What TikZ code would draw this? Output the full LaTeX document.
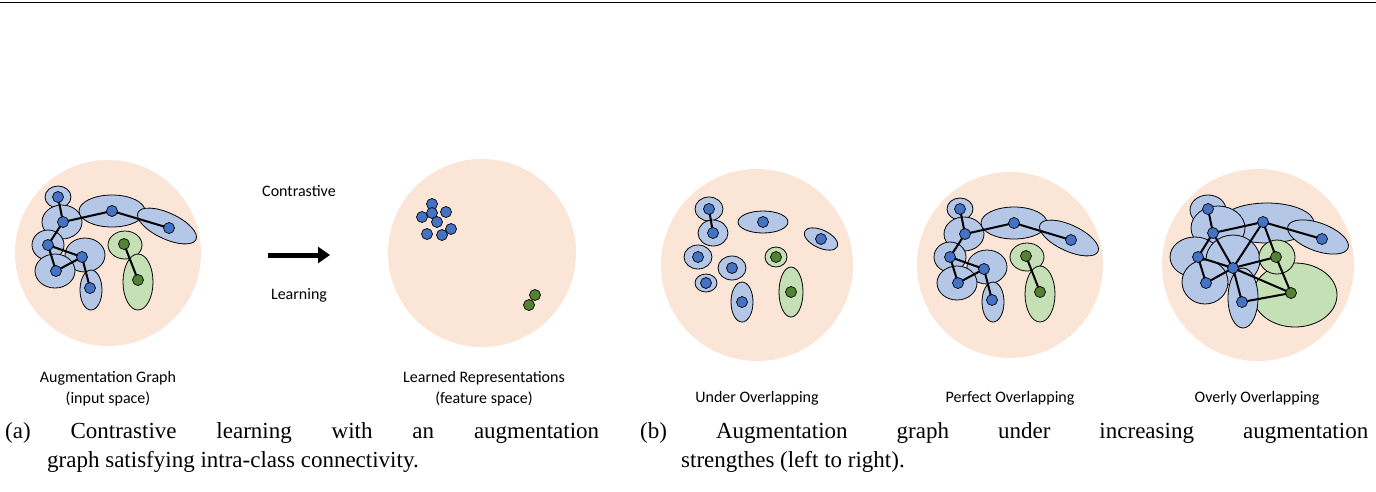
\documentclass[tikz,border=0pt]{standalone}
\usepackage{fontspec}
\usetikzlibrary{arrows.meta}
\setmainfont{Liberation Serif}
\newfontfamily\lab{Carlito}
\begin{document}
\begin{tikzpicture}[x=1pt,y=-1pt,
  bg/.style={fill=peach},
  bell/.style={fill=bellc,draw=black,line width=0.8pt},
  gell/.style={fill=gellc,draw=black,line width=0.8pt},
  bd/.style={circle,fill=bdot,draw=black,line width=0.7pt,inner sep=0pt,minimum size=11pt},
  gd/.style={circle,fill=gdot,draw=black,line width=0.7pt,inner sep=0pt,minimum size=11pt},
  ed/.style={line width=2pt},
  lbl/.style={font=\lab\fontsize{16}{19}\selectfont,inner sep=0pt},
  captxt/.style={font=\fontsize{23}{27}\selectfont,inner sep=0pt,anchor=base west}]
\definecolor{peach}{HTML}{FBE5D6}
\definecolor{bellc}{HTML}{B4C7E7}
\definecolor{gellc}{HTML}{C5E0B4}
\definecolor{bdot}{HTML}{4472C4}
\definecolor{gdot}{HTML}{548235}
\useasboundingbox (0,0) rectangle (1376,491);
\draw[line width=0.8pt] (0,2) -- (1376,2);
% circle 1 and 4
\foreach \sx/\sy/\p in {0/0/a,902/12/p}{
\begin{scope}[shift={(\sx,\sy)}]
\fill[bg] (108,253) circle (93);
\draw[bell] (58,197) ellipse (13 and 11);
\draw[bell] (62,222) ellipse (20 and 17);
\draw[bell] (112,211) ellipse (33 and 16);
\draw[bell,rotate around={-25:(167,226)}] (167,226) ellipse (32 and 13);
\draw[bell] (48,245) ellipse (16 and 15);
\draw[bell] (85,255) ellipse (20 and 17);
\draw[bell] (55,271) ellipse (20 and 17);
\draw[bell] (91,290) ellipse (11 and 20);
\draw[gell] (125,245) ellipse (17 and 14);
\draw[gell] (138,282) ellipse (15 and 28);
\coordinate (\p1) at (58,197);
\coordinate (\p2) at (63,222);
\coordinate (\p3) at (112,211);
\coordinate (\p4) at (169,228);
\coordinate (\p5) at (48,245);
\coordinate (\p6) at (82,257);
\coordinate (\p7) at (56,271);
\coordinate (\p8) at (90,288);
\coordinate (\p9) at (124,244);
\coordinate (\p0) at (138,280);
\foreach \u/\v in {1/2,2/3,3/4,2/5,5/6,5/7,7/6,6/8,9/0}{\draw[ed] (\p\u) -- (\p\v);}
\foreach \i in {1,...,8}{\node[bd] (\p n\i) at (\p\i) {};}
\node[gd] (\p n9) at (\p9) {};
\node[gd] (\p n0) at (\p0) {};
\end{scope}
}
% circle 2
\fill[bg] (482,253) circle (94);
\foreach \x/\y [count=\i] in {432/204,432/213,422/217,446/212,437/222,427/234,442/235,451/229}{\node[bd] (r\i) at (\x,\y) {};}
\node[gd] (rg1) at (535,295) {};
\node[gd] (rg2) at (529,305) {};
% arrow
\node[lbl] (t1) at (299,191) {Contrastive};
\node[lbl] (t2) at (299,295) {Learning};
\coordinate (as) at (268,255);
\coordinate (ae) at (330,255);
\draw[line width=5pt,-{Triangle[length=12pt,width=16pt]}] (as) -- (ae);
% circle 3
\fill[bg] (757,265) circle (96);
\draw[bell] (709,209) ellipse (14 and 12);
\draw[bell] (713,233) ellipse (15 and 13);
\draw[bell] (763,222) ellipse (25 and 11);
\draw[bell,rotate around={-25:(821,239)}] (821,239) ellipse (18 and 9);
\draw[bell] (698,257) ellipse (14 and 12);
\draw[bell] (732,268) ellipse (14 and 12);
\draw[bell] (706,283) ellipse (11 and 9);
\draw[bell] (742,302) ellipse (11 and 20);
\draw[gell] (776,257) ellipse (11 and 10);
\draw[gell] (791,292) ellipse (12 and 25);
\coordinate (uc1) at (709,209);
\coordinate (uc2) at (713,233);
\draw[ed] (uc1) -- (uc2);
\node[bd] (u1) at (uc1) {};
\node[bd] (u2) at (uc2) {};
\node[bd] (u3) at (763,222) {};
\node[bd] (u4) at (821,239) {};
\node[bd] (u5) at (698,257) {};
\node[bd] (u6) at (732,268) {};
\node[bd] (u7) at (706,283) {};
\node[bd] (u8) at (742,302) {};
\node[gd] (u9) at (776,257) {};
\node[gd] (u0) at (791,292) {};
% circle 5
\fill[bg] (1258,265) circle (96);
\draw[bell] (1208,210) ellipse (18 and 15);
\draw[bell] (1267,223) ellipse (47 and 20);
\draw[bell] (1218,228) ellipse (27 and 22);
\draw[bell,rotate around={-20:(1318,237)}] (1318,237) ellipse (32 and 14);
\draw[bell] (1195,257) ellipse (25 and 20);
\draw[bell] (1233,260) ellipse (27 and 25);
\draw[bell] (1205,282) ellipse (23 and 22);
\draw[gell] (1295,295) ellipse (42 and 32);
\draw[bell] (1243,298) ellipse (15 and 30);
\draw[gell] (1277,257) ellipse (18 and 17);
\foreach \n/\x/\y in {A/1208/209,B/1213/233,C/1263/222,D/1322/239,E/1198/257,F/1233/268,G/1206/283,H/1242/302}{\coordinate (o\n) at (\x,\y);}
\coordinate (oI) at (1276,257);
\coordinate (oJ) at (1291,293);
\foreach \u/\v in {A/B,B/C,C/D,B/E,E/G,E/F,G/F,F/H,B/F,C/F,C/I,F/I,F/J,I/J,H/J}{\draw[ed] (o\u) -- (o\v);}
\foreach \n in {A,B,C,D,E,F,G,H}{\node[bd] (n\n) at (o\n) {};}
\node[gd] (nI) at (oI) {};
\node[gd] (nJ) at (oJ) {};
% labels
\node[lbl] (l1) at (108,378) {Augmentation Graph};
\node[lbl] (l2) at (108,399) {(input space)};
\node[lbl] (l3) at (484,378) {Learned Representations};
\node[lbl] (l4) at (484,399) {(feature space)};
\node[lbl] (l5) at (757,398) {Under Overlapping};
\node[lbl] (l6) at (1010,398) {Perfect Overlapping};
\node[lbl] (l7) at (1257,398) {Overly Overlapping};
% captions
\node[captxt] (c1) at (5,438) {\makebox[594pt][s]{(a) Contrastive learning with an augmentation}};
\node[captxt] (c2) at (47,467) {graph satisfying intra-class connectivity.};
\node[captxt] (c3) at (640,438) {\makebox[728pt][s]{(b) Augmentation graph under increasing augmentation}};
\node[captxt] (c4) at (681,467) {strengthes (left to right).};
\end{tikzpicture}
\end{document}
